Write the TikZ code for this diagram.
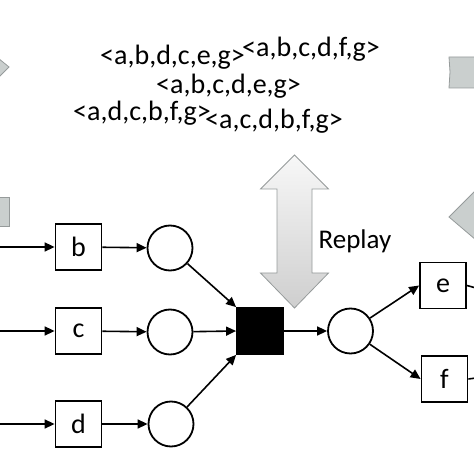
\documentclass[tikz,border=0pt]{standalone}
\usepackage{fontspec}
\setmainfont{Carlito}
\usetikzlibrary{arrows.meta}

\definecolor{shapegray}{RGB}{202,207,206}
\definecolor{edgegray}{RGB}{150,155,155}

\tikzset{
	transbox/.style={draw, line width=1.8pt, minimum width=46pt, minimum height=46pt, inner sep=0pt, font=\fontsize{28}{30}\selectfont},
	placenode/.style={draw, circle, line width=1.8pt, minimum size=45pt, inner sep=0pt},
	arc/.style={line width=1.6pt, -{Triangle[length=10pt,width=9pt]}},
	trace/.style={anchor=base west, inner sep=0pt, font=\fontsize{28}{30}\selectfont},
	sideshape/.style={fill=shapegray, draw=edgegray, line width=0.8pt}
}

\begin{document}
\begin{tikzpicture}[x=1pt, y=1pt]

\def\width{474}
\def\height{474}
\def\ax{294.5}

\path [use as bounding box] (0,0) rectangle (\width,\height);

% CUT-OFF SHAPES
\filldraw [sideshape] (-2,416) -- (9,407) -- (-2,396) -- cycle;
\filldraw [sideshape] (-2,277) rectangle (9,248);
\filldraw [sideshape] (476,417) -- (449,417) -- (450,402) -- (449,386) -- (476,386) -- cycle;
\filldraw [sideshape] (476,284) -- (449,257) -- (476,234) -- cycle;

% TRACES
\node [trace] (t1) at (100,409) {<a,b,d,c,e,g>};
\node [trace] (t2) at (242,417) {<a,b,c,d,f,g>};
\node [trace] (t3) at (156,380) {<a,b,c,d,e,g>};
\node [trace] (t4) at (73,353) {<a,d,c,b,f,g>};
\node [trace] (t5) at (205,345) {<a,c,d,b,f,g>};

% REPLAY ARROW
\path [draw=edgegray, line width=0.8pt, top color=gray!6, bottom color=gray!38] (\ax,319)
	-- +(34,-34)
	-- +(17.5,-34)
	-- +(17.5,-118)
	-- +(34,-118)
	-- +(0,-153)
	-- +(-34,-118)
	-- +(-17.5,-118)
	-- +(-17.5,-34)
	-- +(-34,-34)
	-- cycle;
\node [font=\fontsize{27}{30}\selectfont] (replay) at (355,233) {Replay};

% NET
\node [transbox] (b) at (78.5,227) {b};
\node [transbox] (c) at (78.5,143) {c};
\node [transbox] (d) at (78.5,50) {d};
\node [placenode] (pb) at (170,226) {};
\node [placenode] (pc) at (170,142) {};
\node [placenode] (pd) at (171,50) {};
\node [transbox, fill=black] (t) at (260,143) {};
\node [placenode] (po) at (350.5,143) {};
\node [transbox] (e) at (443,188.5) {e};
\node [transbox] (f) at (444.5,95) {f};

\coordinate (inb) at (-2,227);
\coordinate (inc) at (-2,143);
\coordinate (ind) at (-2,50);
\coordinate (oute) at (476,186);
\coordinate (outf) at (476,96);

% ARCS
\draw [arc] (inb) -- (b);
\draw [arc] (inc) -- (c);
\draw [arc] (ind) -- (d);
\draw [arc] (b) -- (pb);
\draw [arc] (c) -- (pc);
\draw [arc] (d) -- (pd);
\draw [arc] (pb) -- (t.north west);
\draw [arc] (pc) -- (t.west);
\draw [arc] (pd) -- (t.south west);
\draw [arc] (t) -- (po);
\draw [arc] (po) -- (e.west);
\draw [arc] (po) -- (f.west);
\draw [line width=1.6pt] (e.east) -- (oute);
\draw [line width=1.6pt] (f.east) -- (outf);

\end{tikzpicture}
\end{document}
